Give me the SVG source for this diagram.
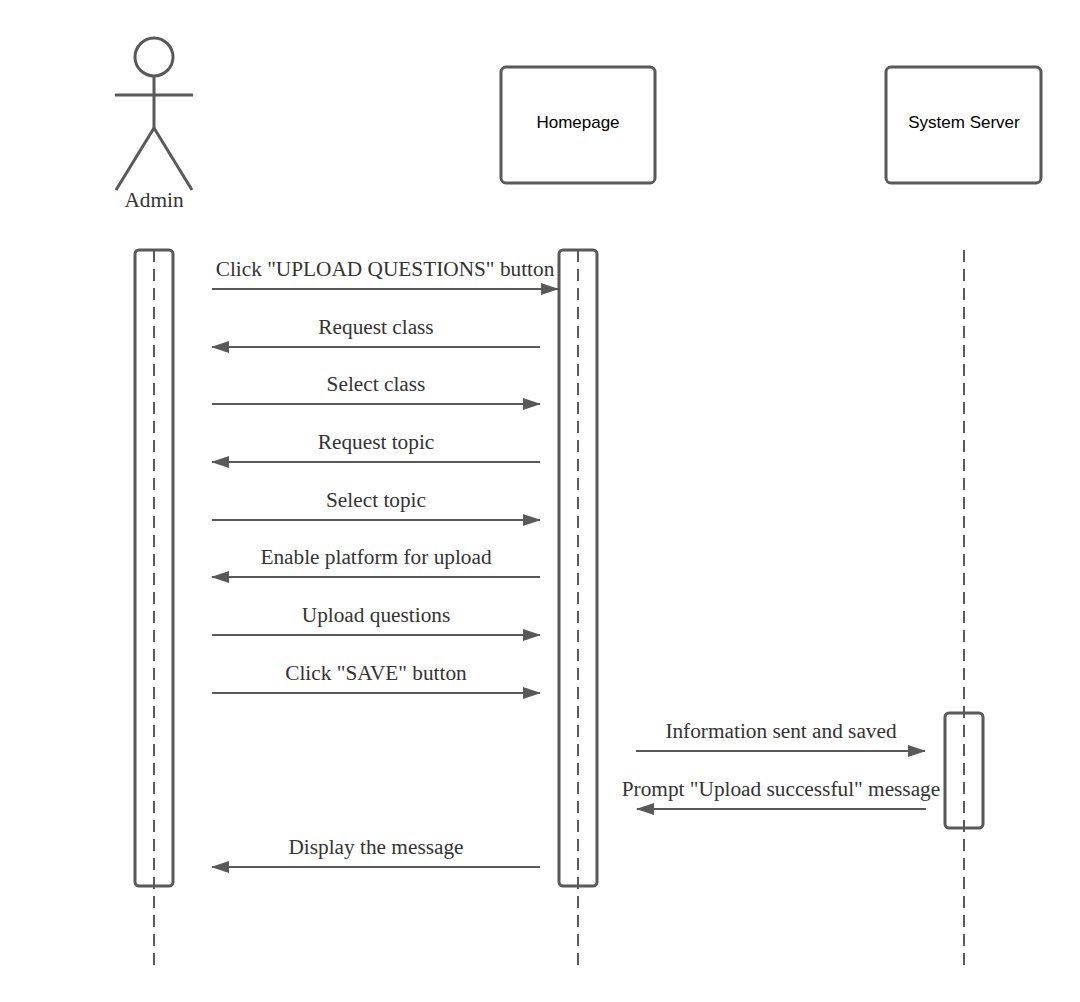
<svg xmlns="http://www.w3.org/2000/svg" width="1080" height="1002" viewBox="0 0 1080 1002">
<defs>
<style>
.s{fill:none;stroke:#595959;stroke-width:3}
.l{stroke:#595959;stroke-width:2;stroke-dasharray:12 7;fill:none}
.m{stroke:#595959;stroke-width:2;fill:none}
.t{font-family:"Liberation Serif",serif;font-size:21.3px;fill:#333;text-anchor:middle}
.h{font-family:"Liberation Sans",Arial,sans-serif;font-size:17px;fill:#000;text-anchor:middle}
</style>
<marker id="ar" markerWidth="18" markerHeight="12" refX="17" refY="6" orient="auto" markerUnits="userSpaceOnUse"><path d="M0,0 L18,6 L0,12 Z" fill="#595959"/></marker>
</defs>
<rect width="1080" height="1002" fill="#fff"/>
<g id="lifelines">
<line class="l" x1="154" y1="250" x2="154" y2="965"/>
<line class="l" x1="578" y1="250" x2="578" y2="965"/>
<line class="l" x1="964" y1="250" x2="964" y2="965"/>
</g>
<g id="admin">
<circle class="s" cx="154" cy="57" r="19"/>
<line class="s" x1="154" y1="76" x2="154" y2="128"/>
<line class="s" x1="115" y1="95" x2="193" y2="95"/>
<line class="s" x1="154" y1="128" x2="116" y2="190"/>
<line class="s" x1="154" y1="128" x2="192" y2="190"/>
<text class="t" x="154" y="207">Admin</text>
<rect class="s" x="135" y="250" width="38" height="636" rx="4"/>
</g>
<g id="homepage">
<rect class="s" x="501" y="67" width="154" height="116" rx="5"/>
<text class="h" x="578" y="128">Homepage</text>
<rect class="s" x="559" y="250" width="38" height="636" rx="4"/>
</g>
<g id="server">
<rect class="s" x="886" y="67" width="155" height="116" rx="5"/>
<text class="h" x="964" y="128">System Server</text>
<rect class="s" x="945" y="713" width="38" height="115" rx="4"/>
</g>
<g id="connectors">
<line class="m" x1="212" y1="289" x2="558" y2="289" marker-end="url(#ar)"/>
<text class="t" x="385" y="276">Click "UPLOAD QUESTIONS" button</text>
<line class="m" x1="540" y1="347" x2="212" y2="347" marker-end="url(#ar)"/>
<text class="t" x="376" y="334">Request class</text>
<line class="m" x1="212" y1="404" x2="540" y2="404" marker-end="url(#ar)"/>
<text class="t" x="376" y="391">Select class</text>
<line class="m" x1="540" y1="462" x2="212" y2="462" marker-end="url(#ar)"/>
<text class="t" x="376" y="449">Request topic</text>
<line class="m" x1="212" y1="520" x2="540" y2="520" marker-end="url(#ar)"/>
<text class="t" x="376" y="507">Select topic</text>
<line class="m" x1="540" y1="577" x2="212" y2="577" marker-end="url(#ar)"/>
<text class="t" x="376" y="564">Enable platform for upload</text>
<line class="m" x1="212" y1="635" x2="540" y2="635" marker-end="url(#ar)"/>
<text class="t" x="376" y="622">Upload questions</text>
<line class="m" x1="212" y1="693" x2="540" y2="693" marker-end="url(#ar)"/>
<text class="t" x="376" y="680">Click "SAVE" button</text>
<line class="m" x1="636" y1="751" x2="925" y2="751" marker-end="url(#ar)"/>
<text class="t" x="781" y="738">Information sent and saved</text>
<line class="m" x1="926" y1="809" x2="637" y2="809" marker-end="url(#ar)"/>
<text class="t" x="781" y="796">Prompt "Upload successful" message</text>
<line class="m" x1="540" y1="867" x2="212" y2="867" marker-end="url(#ar)"/>
<text class="t" x="376" y="854">Display the message</text>
</g>
</svg>
